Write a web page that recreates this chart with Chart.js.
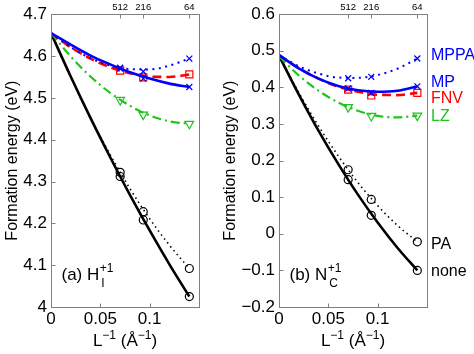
<!DOCTYPE html>
<html>
<head>
<meta charset="utf-8">
<script src="https://cdn.jsdelivr.net/npm/chart.js@4/dist/chart.umd.min.js"></script>
<style>
  html, body { margin: 0; padding: 0; background: #fff; }
  #wrap { position: relative; width: 474px; height: 354px; background: #fff; overflow: hidden; }
  canvas { position: absolute; top: 0; }
</style>
</head>
<body>
<div id="wrap">
  <canvas id="ca" width="225" height="354" style="left:0px"></canvas>
  <canvas id="cb" width="254" height="354" style="left:220px"></canvas>
</div>
<script>
// ---------- data ----------
const curveX = [0, 0.02, 0.04, 0.06, 0.08, 0.10, 0.12, 0.1402];
const markerX = [0.0701, 0.0935, 0.1402];
const sizeLabels = ['512', '216', '64'];
const xTicks = [0, 0.05, 0.1];
const yTicksA = [4, 4.1, 4.2, 4.3, 4.4, 4.5, 4.6, 4.7];
const yTicksB = [-0.2, -0.1, 0, 0.1, 0.2, 0.3, 0.4, 0.5, 0.6];
const seriesNames = ['MPPA', 'MP', 'FNV', 'LZ', 'PA', 'none'];

// panel (a) H_I^{+1}: curves and computed points
const aMPPACurve = [4.655, 4.621, 4.595, 4.577, 4.569, 4.568, 4.577, 4.594];
const aMPPAPts   = [4.572, 4.563, 4.594];
const aMPCurve   = [4.655, 4.627, 4.601, 4.580, 4.561, 4.546, 4.534, 4.526];
const aMPPts     = [4.570, 4.546, 4.526];
const aFNVCurve  = [4.655, 4.621, 4.594, 4.573, 4.559, 4.551, 4.550, 4.556];
const aFNVPts    = [4.565, 4.549, 4.556];
const aLZCurve   = [4.655, 4.599, 4.551, 4.512, 4.481, 4.458, 4.444, 4.438];
const aLZPts     = [4.495, 4.460, 4.438];
const aPACurve   = [4.655, 4.549, 4.452, 4.364, 4.283, 4.211, 4.148, 4.092];
const aPAPts     = [4.322, 4.228, 4.092];
const aNoneCurve = [4.655, 4.551, 4.452, 4.358, 4.268, 4.183, 4.102, 4.025];
const aNonePts   = [4.312, 4.208, 4.025];

// panel (b) N_C^{+1}
const bMPPACurve = [0.488, 0.458, 0.438, 0.427, 0.426, 0.434, 0.451, 0.479];
const bMPPAPts   = [0.425, 0.429, 0.479];
const bMPCurve   = [0.488, 0.452, 0.424, 0.404, 0.392, 0.388, 0.391, 0.403];
const bMPPts     = [0.397, 0.385, 0.403];
const bFNVCurve  = [0.488, 0.453, 0.424, 0.402, 0.388, 0.380, 0.379, 0.385];
const bFNVPts    = [0.394, 0.378, 0.385];
const bLZCurve   = [0.485, 0.433, 0.391, 0.359, 0.336, 0.322, 0.318, 0.323];
const bLZPts     = [0.346, 0.322, 0.323];
const bPACurve   = [0.487, 0.386, 0.295, 0.213, 0.140, 0.077, 0.023, -0.022];
const bPAPts     = [0.175, 0.094, -0.022];
const bNoneCurve = [0.487, 0.381, 0.282, 0.191, 0.107, 0.031, -0.038, -0.100];
const bNonePts   = [0.148, 0.0505, -0.100];

// label anchor values (data units) for the right-hand series names in panel (b)
const bLabelAnchors = [0.487, 0.412, 0.370, 0.320, -0.030, -0.103];

// ---------- styles ----------
const FONT = '"Liberation Sans", Arial, Helvetica, sans-serif';
const BLUE = '#0000ff', RED = '#ff0000', GREEN = '#1fc41f', BLACK = '#000000';
const FRAME = '#808080';
const styles = {
  MPPA: { color: BLUE,  width: 2,   dash: [2, 4.5],          point: 'crossRot', r: 4.2, rot: 0 },
  MP:   { color: BLUE,  width: 2.6, dash: [],                point: 'crossRot', r: 4.2, rot: 0 },
  FNV:  { color: RED,   width: 2.6, dash: [9, 5],            point: 'rect',     r: 5,   rot: 0 },
  LZ:   { color: GREEN, width: 2.2, dash: [9, 4, 2, 4],      point: 'triangle', r: 5,   rot: 180 },
  PA:   { color: BLACK, width: 1.6, dash: [1.5, 3.5],        point: 'circle',   r: 4,   rot: 0 },
  none: { color: BLACK, width: 2.6, dash: [],                point: 'circle',   r: 4,   rot: 0 }
};

Chart.defaults.font.family = FONT;
Chart.defaults.color = '#000';

function pairs(xs, ys) { return xs.map((x, i) => ({ x: x, y: ys[i] })); }
function fmt(v) {
  const s = String(+(+v).toFixed(3));
  return s.replace('-', '\u2212');
}

function buildDatasets(series) {
  const ds = [];
  series.forEach(s => {
    const st = styles[s.name];
    ds.push({
      label: s.name + ' fit', data: pairs(curveX, s.curve), showLine: true,
      borderColor: st.color, borderWidth: st.width, borderDash: st.dash,
      pointRadius: 0, cubicInterpolationMode: 'monotone', fill: false
    });
    ds.push({
      label: s.name, data: pairs(markerX, s.pts), showLine: false,
      pointStyle: st.point, pointRadius: st.r, pointRotation: st.rot,
      pointBorderColor: st.color, pointBackgroundColor: 'rgba(255,255,255,0)',
      pointBorderWidth: 1.2
    });
  });
  return ds;
}

function drawSupSub(ctx, x, y, main, sup, sub) {
  ctx.font = '17px ' + FONT;
  ctx.textBaseline = 'alphabetic';
  ctx.textAlign = 'left';
  ctx.fillStyle = '#000';
  ctx.fillText(main, x, y);
  const w = ctx.measureText(main).width;
  ctx.font = '12px ' + FONT;
  ctx.fillText(sup, x + w + 0.5, y - 8);
  ctx.fillText(sub, x + w + 2, y + 7);
}

function framePlugin(panel) {
  return {
    id: 'frame' + panel.tag,
    afterDatasetsDraw(chart) {
      const ctx = chart.ctx;
      const a = chart.chartArea;
      const xs = chart.scales.x, ys = chart.scales.y;
      ctx.save();
      ctx.strokeStyle = FRAME;
      ctx.lineWidth = 1;
      const L = Math.round(a.left) + 0.5, R = Math.round(a.right) + 0.5;
      const T = Math.round(a.top) + 0.5, B = Math.round(a.bottom) + 0.5;
      ctx.strokeRect(L, T, R - L, B - T);
      ctx.beginPath();
      panel.yTicks.forEach(v => {
        const p = Math.round(ys.getPixelForValue(v)) + 0.5;
        ctx.moveTo(L, p); ctx.lineTo(L + 4, p);
      });
      xTicks.forEach(v => {
        const p = Math.round(xs.getPixelForValue(v)) + 0.5;
        ctx.moveTo(p, B); ctx.lineTo(p, B - 4);
      });
      markerX.forEach(v => {
        const p = Math.round(xs.getPixelForValue(v)) + 0.5;
        ctx.moveTo(p, T); ctx.lineTo(p, T + 4);
      });
      ctx.stroke();

      // x axis title: L^-1 (Å^-1)
      const cx = (a.left + a.right) / 2;
      const by = 346;
      const parts = [['L', 17, 0], ['\u22121', 12, -7], [' (\u00C5', 17, 0], ['\u22121', 12, -7], [')', 17, 0]];
      let total = 0;
      parts.forEach(p => { ctx.font = p[1] + 'px ' + FONT; total += ctx.measureText(p[0]).width; });
      let x = cx - total / 2;
      ctx.fillStyle = '#000';
      ctx.textBaseline = 'alphabetic';
      ctx.textAlign = 'left';
      parts.forEach(p => {
        ctx.font = p[1] + 'px ' + FONT;
        ctx.fillText(p[0], x, by + p[2]);
        x += ctx.measureText(p[0]).width;
      });

      drawSupSub(ctx, a.left + 10.5, 280, panel.label, '+1', panel.sub);

      if (panel.names) {
        ctx.font = '16px ' + FONT;
        ctx.textBaseline = 'middle';
        ctx.textAlign = 'left';
        seriesNames.forEach((n, i) => {
          ctx.fillStyle = styles[n].color;
          ctx.fillText(n, a.right + 4, ys.getPixelForValue(bLabelAnchors[i]));
        });
      }
      ctx.restore();
    }
  };
}

function makeChart(canvasId, panel) {
  return new Chart(document.getElementById(canvasId), {
    type: 'scatter',
    data: { datasets: buildDatasets(panel.series) },
    options: {
      responsive: false, animation: false, devicePixelRatio: 1,
      layout: { padding: { left: 0, right: panel.padRight, top: 0, bottom: 0 } },
      plugins: { legend: { display: false }, tooltip: { enabled: false } },
      elements: { line: { tension: 0 } },
      scales: {
        x: {
          type: 'linear', position: 'bottom', min: 0, max: 0.15,
          afterBuildTicks: s => { s.ticks = xTicks.map(v => ({ value: v })); },
          afterFit: s => { s.height = 47; },
          grid: { display: false, drawTicks: false }, border: { display: false },
          ticks: { callback: v => fmt(v), font: { size: 17 }, color: '#000', padding: 2, maxRotation: 0, autoSkip: false }
        },
        x2: {
          type: 'linear', position: 'top', min: 0, max: 0.15,
          afterBuildTicks: s => { s.ticks = markerX.map(v => ({ value: v })); },
          afterFit: s => { s.height = 11; },
          grid: { display: false, drawTicks: false }, border: { display: false },
          ticks: { callback: (v, i) => sizeLabels[i], font: { size: 9.5 }, color: '#000', padding: 1, maxRotation: 0, autoSkip: false }
        },
        y: {
          type: 'linear', position: 'left', min: panel.yMin, max: panel.yMax,
          afterBuildTicks: s => { s.ticks = panel.yTicks.map(v => ({ value: v })); },
          afterFit: s => { s.width = panel.yWidth; },
          grid: { display: false, drawTicks: false }, border: { display: false },
          ticks: { callback: v => fmt(v), font: { size: 17 }, color: '#000', padding: 4, autoSkip: false },
          title: { display: true, text: 'Formation energy (eV)', font: { size: 16 }, color: '#000', padding: { top: panel.titlePad, bottom: 0 } }
        }
      }
    },
    plugins: [framePlugin(panel)]
  });
}

makeChart('ca', {
  tag: 'a', yMin: 4, yMax: 4.7, yTicks: yTicksA, yWidth: 51, padRight: 26, titlePad: 3,
  label: '(a) H', sub: 'I', names: false,
  series: [
    { name: 'MPPA', curve: aMPPACurve, pts: aMPPAPts },
    { name: 'MP',   curve: aMPCurve,   pts: aMPPts },
    { name: 'FNV',  curve: aFNVCurve,  pts: aFNVPts },
    { name: 'LZ',   curve: aLZCurve,   pts: aLZPts },
    { name: 'PA',   curve: aPACurve,   pts: aPAPts },
    { name: 'none', curve: aNoneCurve, pts: aNonePts }
  ]
});

makeChart('cb', {
  tag: 'b', yMin: -0.2, yMax: 0.6, yTicks: yTicksB, yWidth: 59, padRight: 47, titlePad: 1,
  label: '(b) N', sub: 'C', names: true,
  series: [
    { name: 'MPPA', curve: bMPPACurve, pts: bMPPAPts },
    { name: 'MP',   curve: bMPCurve,   pts: bMPPts },
    { name: 'FNV',  curve: bFNVCurve,  pts: bFNVPts },
    { name: 'LZ',   curve: bLZCurve,   pts: bLZPts },
    { name: 'PA',   curve: bPACurve,   pts: bPAPts },
    { name: 'none', curve: bNoneCurve, pts: bNonePts }
  ]
});
</script>
</body>
</html>
